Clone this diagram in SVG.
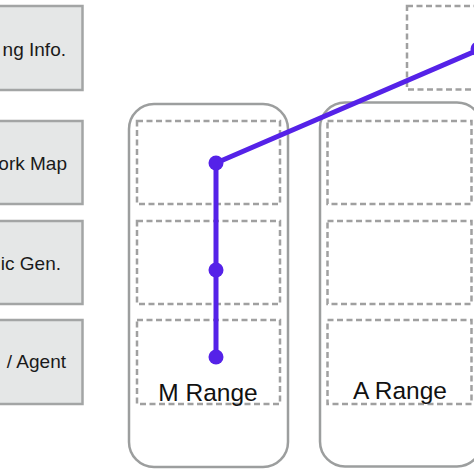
<svg xmlns="http://www.w3.org/2000/svg" width="474" height="474" viewBox="0 0 474 474">
<style>
.box{fill:#e5e7e7;stroke:#a3a5a5;stroke-width:2.5}
.lbl{font-family:"Liberation Sans",Arial,sans-serif;font-size:19px;fill:#1a1a1a;text-anchor:end}
.range{fill:#ffffff;stroke:#9c9e9e;stroke-width:2.5}
.dash{fill:none;stroke:#a0a0a0;stroke-width:2.5;stroke-dasharray:6 3.5}
.rlbl{font-family:"Liberation Sans",Arial,sans-serif;font-size:24.5px;fill:#111;text-anchor:middle}
.link{stroke:#5522e8;stroke-width:5;fill:none;stroke-linecap:round}
.dot{fill:#5522e8}
</style>
<rect width="474" height="474" fill="#ffffff"/>
<g id="node-info">
<rect class="box" x="-100" y="6" width="182.5" height="84"/>
<text class="lbl" x="66" y="56">ng Info.</text>
</g>
<g id="node-map">
<rect class="box" x="-100" y="121" width="182.5" height="83"/>
<text class="lbl" x="67" y="169.5">ork Map</text>
</g>
<g id="node-gen">
<rect class="box" x="-100" y="221" width="182.5" height="83"/>
<text class="lbl" x="61" y="270">ic Gen.</text>
</g>
<g id="node-agent">
<rect class="box" x="-100" y="320" width="182.5" height="84"/>
<text class="lbl" x="66" y="367.5">/ Agent</text>
</g>
<g id="m-range">
<rect class="range" x="129" y="104" width="159" height="363" rx="25" ry="25"/>
<rect class="dash" x="137" y="121" width="143" height="83"/>
<rect class="dash" x="137" y="221" width="143" height="83"/>
<rect class="dash" x="137" y="320" width="143" height="84"/>
<text class="rlbl" x="208" y="401">M Range</text>
</g>
<g id="a-range">
<rect class="range" x="320" y="102.5" width="162" height="364" rx="25" ry="25"/>
<rect class="dash" x="327.5" y="121" width="144" height="83"/>
<rect class="dash" x="327.5" y="221" width="144" height="83"/>
<rect class="dash" x="327.5" y="320" width="144" height="84"/>
<text class="rlbl" x="400" y="398.5">A Range</text>
</g>
<g id="top-slot">
<rect class="dash" x="407" y="6" width="90" height="83.5"/>
</g>
<g id="connectors">
<line class="link" x1="216" y1="163" x2="478" y2="50"/>
<line class="link" x1="216" y1="163" x2="216" y2="357"/>
<circle class="dot" cx="216" cy="163" r="7.5"/>
<circle class="dot" cx="216" cy="270" r="7.5"/>
<circle class="dot" cx="216" cy="357" r="7.5"/>
<circle class="dot" cx="478" cy="49" r="7.5"/>
</g>
</svg>
